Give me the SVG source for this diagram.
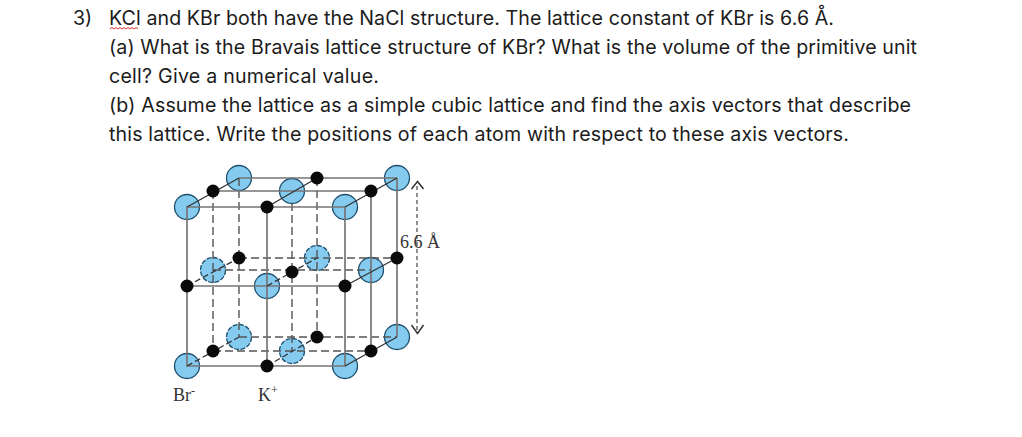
<svg xmlns="http://www.w3.org/2000/svg" width="1022" height="437" viewBox="0 0 1022 437">
<style>
.q{font-family:"Inter","Noto Sans",sans-serif;font-size:19.6px;fill:#1c1c1c}
.s{font-family:"Liberation Serif",serif;fill:#333}
.e{stroke:#767676;stroke-width:1.7;fill:none}
.d{stroke:#555;stroke-width:1.4;fill:none;stroke-dasharray:8 4}
.k{stroke:#333;stroke-width:1.3;fill:none}
.kd{stroke:#333;stroke-width:1.3;fill:none;stroke-dasharray:6 3}
.br{fill:#85caef;stroke:#1d4f6e;stroke-width:1.300}
.brh{fill:#85caef;stroke:#1d4f6e;stroke-width:1.300;stroke-dasharray:5 1.500}
.kp{fill:#0a0a0a}
</style>
<rect width="1022" height="437" fill="#fff"/>
<g id="question">
<text class="q" x="73" y="25">3)</text>
<text class="q" x="109" y="25" textLength="725" lengthAdjust="spacing">KCl and KBr both have the NaCl structure. The lattice constant of KBr is 6.6 Å.</text>
<path d="M110 29l2-1.500 2 1.500 2-1.500 2 1.500 2-1.500 2 1.500 2-1.500 2 1.500 2-1.500 2 1.500 2-1.500 2 1.500 2-1.500 2 1.500" fill="none" stroke="#d9332a" stroke-width="1"/>
<text class="q" x="109" y="54" textLength="808" lengthAdjust="spacing">(a) What is the Bravais lattice structure of KBr? What is the volume of the primitive unit</text>
<text class="q" x="109" y="83" textLength="270" lengthAdjust="spacing">cell? Give a numerical value.</text>
<text class="q" x="109" y="112" textLength="802" lengthAdjust="spacing">(b) Assume the lattice as a simple cubic lattice and find the axis vectors that describe</text>
<text class="q" x="109" y="141" textLength="740" lengthAdjust="spacing">this lattice. Write the positions of each atom with respect to these axis vectors.</text>
</g>
<g id="br-atoms">
<g id="br1"><circle class="br" cx="187" cy="207" r="12.500"/></g>
<g id="br2"><circle class="br" cx="239" cy="178" r="12.500"/></g>
<g id="br3"><circle class="br" cx="292" cy="191" r="12.500"/></g>
<g id="br4"><circle class="br" cx="345" cy="207" r="12.500"/></g>
<g id="br5"><circle class="br" cx="397" cy="178" r="12.500"/></g>
<g id="br6"><circle class="brh" cx="213" cy="270" r="12.500"/></g>
<g id="br7"><circle class="brh" cx="317" cy="258" r="12.500"/></g>
<g id="br8"><circle class="br" cx="267" cy="286" r="12.500"/></g>
<g id="br9"><circle class="br" cx="371" cy="270" r="12.500"/></g>
<g id="br10"><circle class="brh" cx="239" cy="337" r="12.500"/></g>
<g id="br11"><circle class="brh" cx="292" cy="351" r="12.500"/></g>
<g id="br12"><circle class="br" cx="187" cy="366" r="12.500"/></g>
<g id="br13"><circle class="br" cx="345" cy="366" r="12.500"/></g>
<g id="br14"><circle class="br" cx="397" cy="337" r="12.500"/></g>
</g>
<g id="connectors">
<path class="d" d="M213 191V351M239 178V337M292 203V351M317 178V337M239 258H397M213 270H371M239 337H397M213 351H371"/>
<path class="e" d="M187 207H345V366H187ZM187 286H345M267 207V366M239 178H397M213 191H371M397 178V337M371 191V351"/>
<path class="k" d="M187 207L239 178M267 207L317 178M345 207L397 178M345 286L397 258M345 366L397 337"/>
<path class="kd" d="M187 286L239 258M267 286L317 258M187 366L239 337M267 366L317 337"/>
</g>
<g id="k-atoms">
<g id="k1"><circle class="kp" cx="213" cy="191" r="6.500"/></g>
<g id="k2"><circle class="kp" cx="267" cy="207" r="6.500"/></g>
<g id="k3"><circle class="kp" cx="317" cy="178" r="6.500"/></g>
<g id="k4"><circle class="kp" cx="371" cy="191" r="6.500"/></g>
<g id="k5"><circle class="kp" cx="187" cy="286" r="6.500"/></g>
<g id="k6"><circle class="kp" cx="239" cy="258" r="6.500"/></g>
<g id="k7"><circle class="kp" cx="292" cy="272" r="6.500"/></g>
<g id="k8"><circle class="kp" cx="345" cy="286" r="6.500"/></g>
<g id="k9"><circle class="kp" cx="397" cy="258" r="6.500"/></g>
<g id="k10"><circle class="kp" cx="213" cy="351" r="6.500"/></g>
<g id="k11"><circle class="kp" cx="267" cy="366" r="6.500"/></g>
<g id="k12"><circle class="kp" cx="317" cy="337" r="6.500"/></g>
<g id="k13"><circle class="kp" cx="371" cy="351" r="6.500"/></g>
</g>
<g id="dimension">
<path d="M417 186V330" fill="none" stroke="#555" stroke-width="1.300" stroke-dasharray="4 3"/>
<path d="M411.500 189L417.500 181.500L423.500 189M411.500 325L417.500 333.500L423.500 325" fill="none" stroke="#333" stroke-width="1.500"/>
<text class="s" x="400" y="248" font-size="18">6.6 Å</text>
</g>
<g id="legend">
<text class="s" x="173" y="401" font-size="18">Br<tspan font-size="12" dy="-6">-</tspan></text>
<text class="s" x="258" y="401" font-size="18">K<tspan font-size="12" dy="-7">+</tspan></text>
</g>
</svg>
